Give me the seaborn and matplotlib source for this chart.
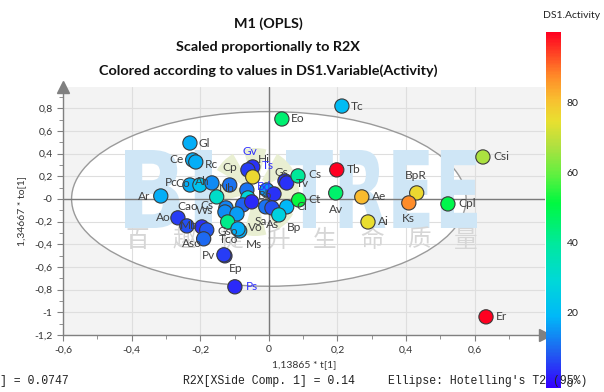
import numpy as np
import pandas as pd
import matplotlib
matplotlib.use("Agg")
import matplotlib.pyplot as plt
import seaborn as sns
from matplotlib.colors import LinearSegmentedColormap, Normalize
from matplotlib.patches import Ellipse, Wedge, PathPatch
from matplotlib.textpath import TextPath
from matplotlib.font_manager import FontProperties
from matplotlib.cm import ScalarMappable
import matplotlib.transforms as mtransforms
from matplotlib.ticker import FuncFormatter, MultipleLocator

# ---------------- data ----------------
names = ["Tc", "Eo", "Gl", "Ce", "Rc", "Pc", "Co", "Ah", "Ar", "Nb", "Cp",
         "Gv", "Hi", "Ts", "", "", "", "", "Bd", "Bb", "Sa", "As", "Cl", "Bp",
         "Gs", "Tv", "Cs", "Tb", "Av", "Ct", "Ae", "Ai", "BpR", "Ks", "Cpl",
         "Csi", "Er", "Ao", "Mb", "Cao", "", "Aso", "Ws", "Cs", "Tco", "Gso",
         "Ms", "Vo", "Ep", "Pv", "Ps"]
t1 = [0.213, 0.038, -0.230, -0.222, -0.213, -0.230, -0.201, -0.166, -0.315, -0.114, -0.064,
      -0.047, -0.061, -0.047, -0.152, -0.061, -0.076, -0.050, -0.006, 0.015, -0.009, 0.009,
      0.052, 0.029, 0.047, 0.052, 0.085, 0.198, 0.195, 0.087, 0.271, 0.289, 0.431, 0.408,
      0.522, 0.624, 0.633, -0.265, -0.239, -0.195, -0.181, -0.190, -0.125, -0.128, -0.093,
      -0.120, -0.085, -0.090, -0.128, -0.131, -0.099]
to1 = [0.819, 0.705, 0.493, 0.344, 0.326, 0.123, 0.123, 0.141, 0.026, 0.123, 0.079,
       0.282, 0.256, 0.194, 0.018, 0.009, -0.053, -0.026, 0.079, 0.044, -0.070, -0.079,
       -0.070, -0.141, 0.159, 0.141, 0.203, 0.256, 0.053, -0.009, 0.018, -0.203, 0.053, -0.035,
       -0.044, 0.370, -1.040, -0.167, -0.238, -0.247, -0.273, -0.352, -0.079, -0.115, -0.132,
       -0.203, -0.282, -0.264, -0.502, -0.493, -0.775]
activity = [20, 45, 18, 18, 18, 18, 22, 14, 18, 11, 11,
            4, 5, 76, 32, 28, 9, 3, 15, 4, 11, 7, 19, 27,
            4, 4, 40, 100, 46, 52, 81, 75, 76, 87, 50,
            67, 100, 5, 7, 4, 8, 10, 13, 14, 16, 42,
            18, 18, 5, 5, 3]

# label offsets (pixels) and highlighted labels
label_dx = [9, 9, 9, -23, 9, -25, -25, -17, -23, -11, -25,
            -10, 10, 9, 0, 0, 0, 0, -10, -16, -11, -6, 10, 8,
            -10, 9, 10, 10, -7, 10, 10, 10, -12, -7, 10,
            10, 10, -22, -7, -25, 0, -22, -30, -25, -18, -10,
            6, 10, 4, -22, 11]
label_dy = [0, 0, 0, 0, -3, 2, 1, 1, -1, -4, 22,
            15, 10, 11, 0, 0, 0, 0, 3, -2, -15, -17, 0, -13,
            8, -1, 1, 0, -17, 0, 0, 0, 17, -16, 0,
            0, 0, 0, 0, 20, 0, -5, -3, 6, -26, -10,
            -14, 1, -13, -1, 0]
blue_labels = {"Gv", "Ts", "Bd", "Ps"}

df = pd.DataFrame({"name": names, "t1": t1, "to1": to1, "activity": activity})

# ---------------- style ----------------
W, H = 604, 392
fig = plt.figure(figsize=(W / 100, H / 100), dpi=100)
sns.set_style("white")
plt.rcParams["font.family"] = ["Lato", "DejaVu Sans"]

cmap = LinearSegmentedColormap.from_list("act", [
    (0.00, "#3300ff"), (0.10, "#2060f0"), (0.20, "#00b8f8"), (0.30, "#00d8d8"),
    (0.40, "#00e8a0"), (0.46, "#00f070"), (0.52, "#00f840"), (0.60, "#60f040"),
    (0.68, "#b0e040"), (0.75, "#e8e030"), (0.81, "#f8c030"), (0.88, "#ff8828"),
    (1.00, "#ff0020")])
vmin, vmax = -1.4, 100
norm = Normalize(vmin, vmax)

px = lambda x: x / W
py = lambda y: 1 - y / H

ax = fig.add_axes([px(63), py(335), px(545) - px(63), py(87) - py(335)])
ax.set_facecolor("#f3f3f3")
ax.set_xlim(-0.6, 0.805)
ax.set_ylim(-1.2, 0.987)

# ellipse (Hotelling T2 95%)
ax.add_patch(Ellipse((0, 0), 2 * 0.575, 2 * 0.77, facecolor="white", edgecolor="none", zorder=0.8))
ax.add_patch(Ellipse((0, 0), 2 * 0.575, 2 * 0.77, facecolor="none", edgecolor="#9a9a9a",
                     lw=1.0, zorder=1.7))

# grid
ax.set_axisbelow("line")
ax.xaxis.set_major_locator(MultipleLocator(0.2))
ax.yaxis.set_major_locator(MultipleLocator(0.2))
ax.grid(True, color="#dedede", lw=0.8)

# watermark
pix2fig = mtransforms.Affine2D().scale(1 / W, 1 / H) + fig.transFigure

def text_box(s, x0, y0, x1, y1, color, fp):
    tp = TextPath((0, 0), s, size=1, prop=fp)
    ext = tp.get_extents()
    tr = (mtransforms.Affine2D().translate(-ext.x0, -ext.y0)
          .scale((x1 - x0) / ext.width, (y1 - y0) / ext.height)
          .translate(x0, H - y1) + pix2fig)
    ax.add_patch(PathPatch(tp, facecolor=color, edgecolor="none", transform=tr, zorder=1.8))

fpb = FontProperties(family="DejaVu Sans", weight="bold")
text_box("BI", 125, 150, 212, 228, "#cfe6f6", fpb)
text_box("TREE", 286, 150, 477, 228, "#cfe6f6", fpb)
for k in range(8):
    ax.add_patch(Wedge((255, H - 192), 44, 90 + k * 45 - 15, 90 + k * 45 + 15, width=30,
                       facecolor="#e9efd2", edgecolor="none", transform=pix2fig, zorder=1.8))
for ch, cx in zip("百趣提升生命质量", [137, 184, 231, 278, 325, 372, 419, 466]):
    ax.text(cx, H - 240, ch, transform=pix2fig, ha="center", va="center", fontsize=17,
            color="#d6d6d6", family=["Noto Sans CJK SC"], zorder=1.8)

# axes zero lines
ax.axhline(0, color="#7a7a7a", lw=1.0, zorder=2)
ax.axvline(0, color="#7a7a7a", lw=1.0, zorder=2)

# scatter
sns.scatterplot(data=df, x="t1", y="to1", hue="activity", palette=cmap, hue_norm=norm,
                s=105, edgecolor="#3a3a3a", linewidth=0.8, legend=False, ax=ax, zorder=5)

for n, x, y, dx, dy in zip(names, t1, to1, label_dx, label_dy):
    if not n:
        continue
    ax.annotate(n, (x, y), xytext=(dx, dy), textcoords="offset pixels", ha="left",
                va="center", fontsize=8.6, color="#3030ff" if n in blue_labels else "#404040",
                zorder=6)

# spines / ticks
for s in ["top", "right"]:
    ax.spines[s].set_visible(False)
for s in ["left", "bottom"]:
    ax.spines[s].set_color("#808080")
    ax.spines[s].set_linewidth(1.0)
ax.plot([1.0], [0], marker=">", ms=8, color="#808080", transform=ax.transAxes, clip_on=False)
ax.plot([0], [1.0], marker="^", ms=8, color="#808080", transform=ax.transAxes, clip_on=False)

fmt = FuncFormatter(lambda v, p: ("%g" % round(v, 2)).replace(".", ","))
ax.set_xticks([-0.6, -0.4, -0.2, 0, 0.2, 0.4, 0.6])
ax.set_yticks(np.round(np.arange(-1.2, 0.81, 0.2), 2))
ax.xaxis.set_major_formatter(fmt)
ax.yaxis.set_major_formatter(fmt)
ax.xaxis.set_minor_locator(MultipleLocator(0.1))
ax.yaxis.set_minor_locator(MultipleLocator(0.1))
ax.tick_params(axis="both", which="major", length=4, color="#808080", labelsize=7.5,
               labelcolor="#333333", direction="out", left=True, bottom=True)
ax.tick_params(axis="both", which="minor", length=3, color="#808080", direction="out",
               left=True, bottom=True)
ax.set_xlabel("1,13865 * t[1]", fontsize=7.5, color="#333333", labelpad=4)
ax.set_ylabel("1,34667 * to[1]", fontsize=7.5, color="#333333", labelpad=6)

# titles
for txt, yy in [("M1 (OPLS)", 24), ("Scaled proportionally to R2X", 47),
                ("Colored according to values in DS1.Variable(Activity)", 71)]:
    fig.text(px(268), py(yy), txt, ha="center", va="center", fontsize=10.4,
             weight="bold", color="#111111")

# colorbar
cax = fig.add_axes([px(546), py(388), px(15), py(32) - py(388)])
cb = fig.colorbar(ScalarMappable(norm=norm, cmap=cmap), cax=cax)
cb.outline.set_visible(False)
cb.set_ticks([0, 20, 40, 60, 80])
cb.ax.tick_params(length=0, labelsize=7.5, labelcolor="#222222", pad=4)
fig.text(px(572), py(16), "DS1.Activity", ha="center", va="center", fontsize=7.5, color="#222222")

# footer
mono = ["Liberation Mono", "DejaVu Sans Mono"]
fig.text(px(0), py(381), "] = 0.0747", ha="left", va="center", fontsize=8.3, family=mono, color="#222222")
fig.text(px(183), py(381), "R2X[XSide Comp. 1] = 0.14", ha="left", va="center", fontsize=8.3,
         family=mono, color="#222222")
fig.text(px(388), py(381), "Ellipse: Hotelling's T2 (95%)", ha="left", va="center", fontsize=8.3,
         family=mono, color="#222222")

fig.savefig("out.png", dpi=100)
